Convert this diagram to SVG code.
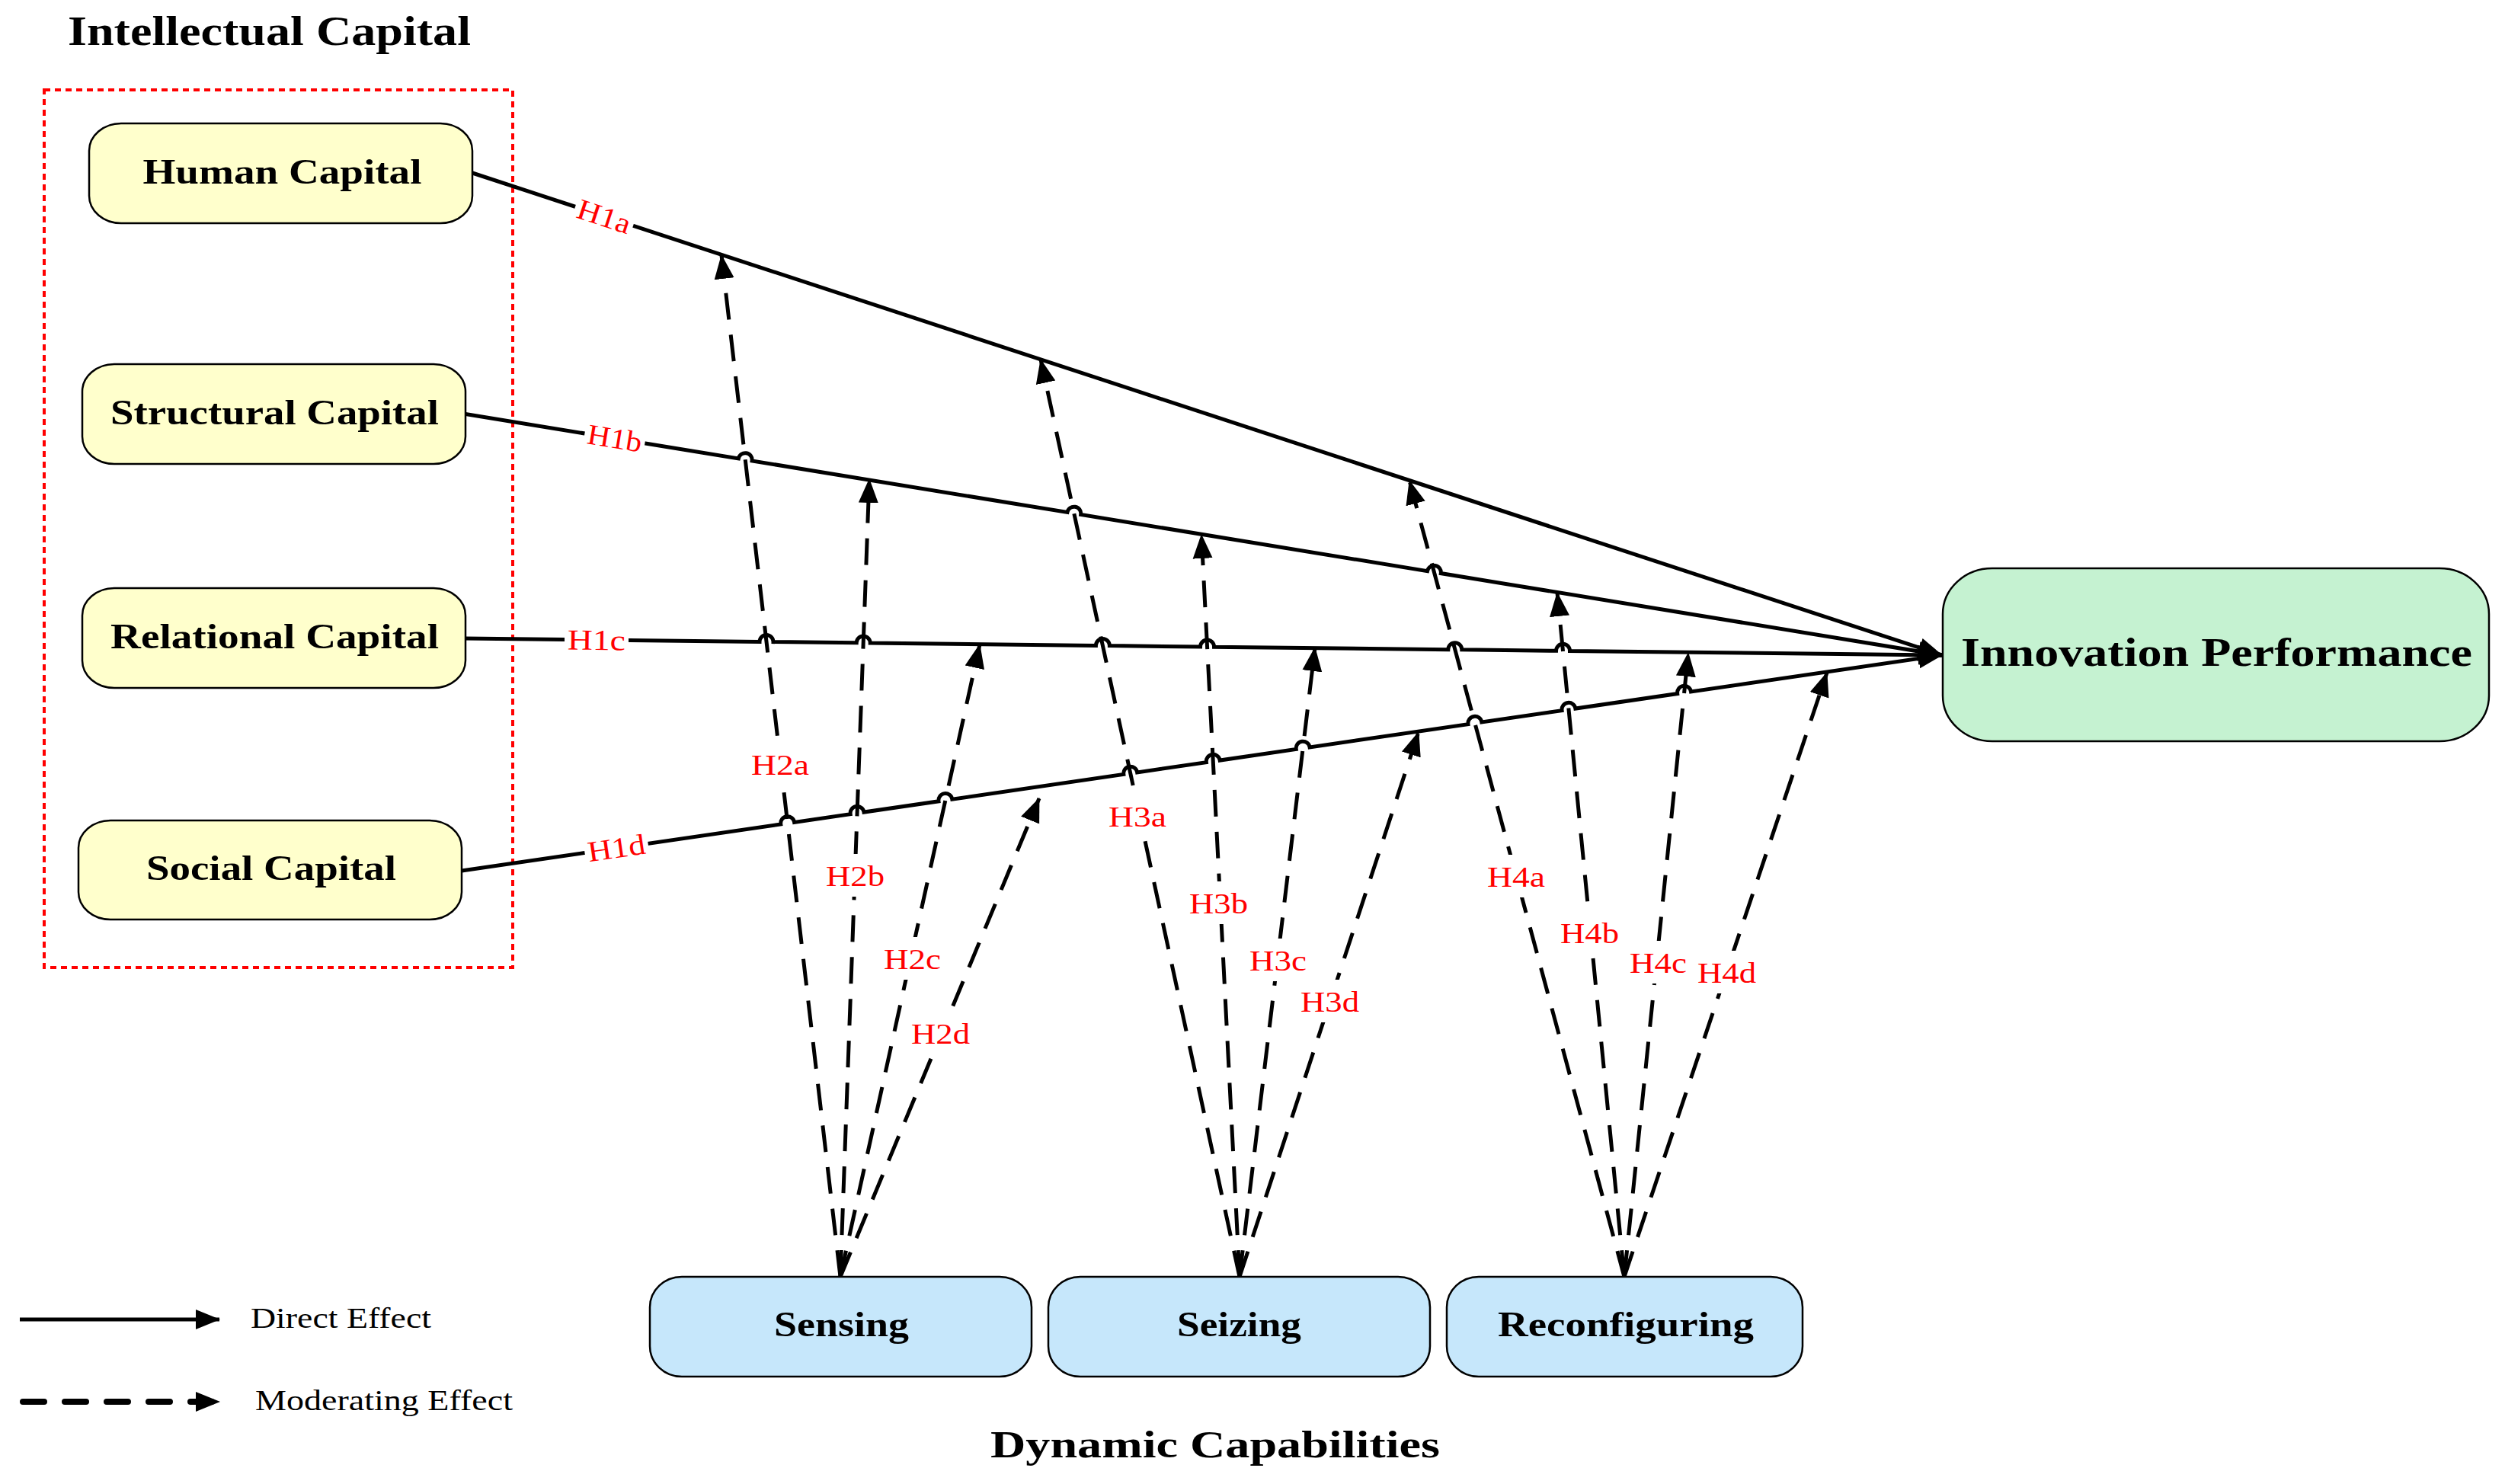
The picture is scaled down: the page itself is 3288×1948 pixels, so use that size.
<svg xmlns="http://www.w3.org/2000/svg" width="3288" height="1948" viewBox="0 0 3288 1948">
<style>
.bg{fill:#ffffff}
.node rect{stroke:#000;stroke-width:2.5}
.cap rect{fill:#FFFFCC}
.dyn rect{fill:#C6E7FB}
.out rect{fill:#C5F2D1}
.nt{font-family:"Liberation Serif","Times New Roman",serif;font-weight:bold;fill:#000}
.title{font-family:"Liberation Serif","Times New Roman",serif;font-weight:bold;fill:#000}
.lbl{font-family:"Liberation Serif","Times New Roman",serif;font-size:38px;fill:#FF0000}
.leg{font-family:"Liberation Serif","Times New Roman",serif;font-size:37px;fill:#000}
.direct{fill:none;stroke:#000;stroke-width:5}
.mod{fill:none;stroke:#000;stroke-width:5;stroke-dasharray:35 20}
.gap{fill:#ffffff}
</style>
<defs>
<marker id="ah" markerUnits="userSpaceOnUse" viewBox="0 0 32 28" markerWidth="32" markerHeight="28" refX="31" refY="14" orient="auto">
<path d="M0,1 L32,14 L0,27 z" fill="#000"/>
</marker>
</defs>
<rect class="bg" x="0" y="0" width="3288" height="1948"/>

<text class="title" x="89" y="59" font-size="54" textLength="529" lengthAdjust="spacingAndGlyphs">Intellectual Capital</text>
<rect x="58" y="118" width="615" height="1152" fill="none" stroke="#FF0000" stroke-width="4" stroke-dasharray="8 6"/>

<g id="connectors">
<path id="e-h1a" class="direct" d="M620,227 L2549,860" marker-end="url(#ah)"/>
<path id="e-h1b" class="direct" d="M608,543 L969.32,602.01 A9,9 0 0 1 987.08,604.91 L1400.92,672.50 A9,9 0 0 1 1418.68,675.40 L1873.52,749.69 A9,9 0 0 1 1891.28,752.59 L2549,860" marker-end="url(#ah)"/>
<path id="e-h1c" class="direct" d="M609,838 L997.0,842.40 A9,9 0 0 1 1015.0,842.60 L1124.2,843.84 A9,9 0 0 1 1142.2,844.04 L1438.4,847.41 A9,9 0 0 1 1456.4,847.61 L1575.55,848.96 A9,9 0 0 1 1593.55,849.16 L1900.8,852.65 A9,9 0 0 1 1918.8,852.85 L2042.5,854.26 A9,9 0 0 1 2060.5,854.46 L2549,860" marker-end="url(#ah)"/>
<path id="e-h1d" class="direct" d="M606,1143 L1024.79,1082.01 A9,9 0 0 1 1042.61,1079.41 L1116.19,1068.69 A9,9 0 0 1 1134.01,1066.09 L1231.99,1051.83 A9,9 0 0 1 1249.81,1049.23 L1474.84,1016.46 A9,9 0 0 1 1492.66,1013.86 L1583.39,1000.65 A9,9 0 0 1 1601.21,998.05 L1701.29,983.47 A9,9 0 0 1 1719.11,980.87 L1926.99,950.60 A9,9 0 0 1 1944.81,948.00 L2050.09,932.67 A9,9 0 0 1 2067.91,930.07 L2201.69,910.59 A9,9 0 0 1 2219.51,907.99 L2549,860" marker-end="url(#ah)"/>

<path id="e-h2a" class="mod" d="M1103,1676 L947,335" marker-end="url(#ah)"/>
<path id="e-h2b" class="mod" d="M1103,1676 L1141,629" marker-end="url(#ah)"/>
<path id="e-h2c" class="mod" d="M1103,1676 L1286,846" marker-end="url(#ah)"/>
<path id="e-h2d" class="mod" d="M1103,1676 L1364,1048" marker-end="url(#ah)"/>
<path id="e-h3a" class="mod" d="M1627,1676 L1366,472" marker-end="url(#ah)"/>
<path id="e-h3b" class="mod" d="M1627,1676 L1577,702" marker-end="url(#ah)"/>
<path id="e-h3c" class="mod" d="M1627,1676 L1726,850" marker-end="url(#ah)"/>
<path id="e-h3d" class="mod" d="M1627,1676 L1862,961" marker-end="url(#ah)"/>
<path id="e-h4a" class="mod" d="M2132,1676 L1850,631" marker-end="url(#ah)"/>
<path id="e-h4b" class="mod" d="M2132,1676 L2044,778" marker-end="url(#ah)"/>
<path id="e-h4c" class="mod" d="M2132,1676 L2216,857" marker-end="url(#ah)"/>
<path id="e-h4d" class="mod" d="M2132,1676 L2398,883" marker-end="url(#ah)"/>

<g transform="translate(793,284) rotate(18.2)"><rect class="gap" x="-40" y="-20" width="80" height="40"/><text class="lbl" x="-36" y="13" textLength="72" lengthAdjust="spacingAndGlyphs">H1a</text></g>
<g transform="translate(807,575) rotate(9.3)"><rect class="gap" x="-40" y="-20" width="80" height="40"/><text class="lbl" x="-36" y="13" textLength="72" lengthAdjust="spacingAndGlyphs">H1b</text></g>
<g transform="translate(783,840) rotate(0.65)"><rect class="gap" x="-42" y="-20" width="84" height="40"/><text class="lbl" x="-38" y="13" textLength="76" lengthAdjust="spacingAndGlyphs">H1c</text></g>
<g transform="translate(809,1113) rotate(-8.3)"><rect class="gap" x="-42" y="-20" width="84" height="40"/><text class="lbl" x="-38" y="13" textLength="76" lengthAdjust="spacingAndGlyphs">H1d</text></g>

<rect class="gap" x="982" y="975" width="84" height="56"/><text class="lbl" x="986" y="1017" textLength="76" lengthAdjust="spacingAndGlyphs">H2a</text>
<rect class="gap" x="1080" y="1121" width="84" height="56"/><text class="lbl" x="1084" y="1163" textLength="77" lengthAdjust="spacingAndGlyphs">H2b</text>
<rect class="gap" x="1156" y="1230" width="84" height="56"/><text class="lbl" x="1160" y="1272" textLength="75" lengthAdjust="spacingAndGlyphs">H2c</text>
<rect class="gap" x="1192" y="1328" width="84" height="56"/><text class="lbl" x="1196" y="1370" textLength="77" lengthAdjust="spacingAndGlyphs">H2d</text>
<rect class="gap" x="1451" y="1043" width="84" height="56"/><text class="lbl" x="1455" y="1085" textLength="76" lengthAdjust="spacingAndGlyphs">H3a</text>
<rect class="gap" x="1557" y="1157" width="84" height="56"/><text class="lbl" x="1561" y="1199" textLength="77" lengthAdjust="spacingAndGlyphs">H3b</text>
<rect class="gap" x="1636" y="1232" width="84" height="56"/><text class="lbl" x="1640" y="1274" textLength="75" lengthAdjust="spacingAndGlyphs">H3c</text>
<rect class="gap" x="1703" y="1286" width="84" height="56"/><text class="lbl" x="1707" y="1328" textLength="77" lengthAdjust="spacingAndGlyphs">H3d</text>
<rect class="gap" x="1948" y="1122" width="84" height="56"/><text class="lbl" x="1952" y="1164" textLength="76" lengthAdjust="spacingAndGlyphs">H4a</text>
<rect class="gap" x="2044" y="1196" width="84" height="56"/><text class="lbl" x="2048" y="1238" textLength="77" lengthAdjust="spacingAndGlyphs">H4b</text>
<rect class="gap" x="2135" y="1235" width="84" height="56"/><text class="lbl" x="2139" y="1277" textLength="75" lengthAdjust="spacingAndGlyphs">H4c</text>
<rect class="gap" x="2224" y="1248" width="84" height="56"/><text class="lbl" x="2228" y="1290" textLength="77" lengthAdjust="spacingAndGlyphs">H4d</text>
</g>

<g id="human" class="node cap"><rect x="117" y="162" width="503" height="131" rx="42" ry="36"/><text class="nt" x="187.5" y="241" font-size="46" textLength="366" lengthAdjust="spacingAndGlyphs">Human Capital</text></g>
<g id="structural" class="node cap"><rect x="108" y="478" width="503" height="131" rx="42" ry="36"/><text class="nt" x="145" y="557" font-size="46" textLength="431" lengthAdjust="spacingAndGlyphs">Structural Capital</text></g>
<g id="relational" class="node cap"><rect x="108" y="772" width="503" height="131" rx="42" ry="36"/><text class="nt" x="145" y="851" font-size="46" textLength="431" lengthAdjust="spacingAndGlyphs">Relational Capital</text></g>
<g id="social" class="node cap"><rect x="103" y="1077" width="503" height="130" rx="42" ry="36"/><text class="nt" x="192" y="1155" font-size="46" textLength="328" lengthAdjust="spacingAndGlyphs">Social Capital</text></g>

<g id="innovation" class="node out"><rect x="2550" y="746" width="717" height="227" rx="65" ry="60"/><text class="nt" x="2574" y="874" font-size="52" textLength="671" lengthAdjust="spacingAndGlyphs">Innovation Performance</text></g>

<g id="sensing" class="node dyn"><rect x="853" y="1676" width="501" height="131" rx="42" ry="40"/><text class="nt" x="1016" y="1754" font-size="46" textLength="177" lengthAdjust="spacingAndGlyphs">Sensing</text></g>
<g id="seizing" class="node dyn"><rect x="1376" y="1676" width="501" height="131" rx="42" ry="40"/><text class="nt" x="1545" y="1754" font-size="46" textLength="163" lengthAdjust="spacingAndGlyphs">Seizing</text></g>
<g id="reconfiguring" class="node dyn"><rect x="1899" y="1676" width="467" height="131" rx="42" ry="40"/><text class="nt" x="1966" y="1754" font-size="46" textLength="336" lengthAdjust="spacingAndGlyphs">Reconfiguring</text></g>

<text class="title" x="1300" y="1913" font-size="50" textLength="590" lengthAdjust="spacingAndGlyphs">Dynamic Capabilities</text>

<g id="legend">
<path d="M26,1732 L288,1732" fill="none" stroke="#000" stroke-width="5" marker-end="url(#ah)"/>
<text class="leg" x="329" y="1743" textLength="237" lengthAdjust="spacingAndGlyphs">Direct Effect</text>
<path d="M30,1840 L288,1840" fill="none" stroke="#000" stroke-width="8" stroke-linecap="round" stroke-dasharray="28 27" marker-end="url(#ah)"/>
<text class="leg" x="335" y="1851" textLength="338" lengthAdjust="spacingAndGlyphs">Moderating Effect</text>
</g>
</svg>
